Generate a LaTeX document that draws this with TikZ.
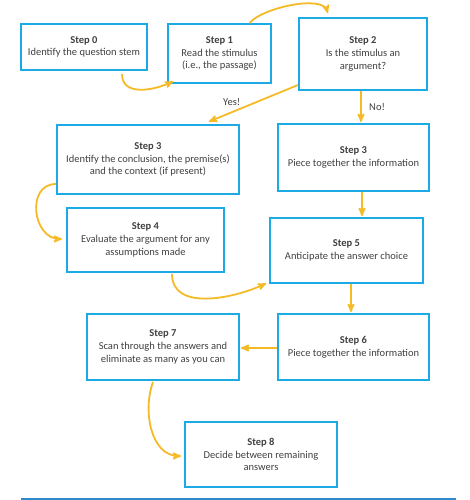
\documentclass[tikz,border=0pt]{standalone}
\usepackage{fontspec}
\setmainfont{Carlito}
\usetikzlibrary{arrows}
\definecolor{boxblue}{RGB}{27,170,230}
\definecolor{arrowgold}{RGB}{245,187,38}
\definecolor{rulblue}{RGB}{46,138,203}
\definecolor{txtgray}{RGB}{64,64,64}
\begin{document}
\begin{tikzpicture}[x=1pt,y=-1pt,->,>=stealth',shorten >=1pt,
    step node/.style={rectangle,draw=boxblue,line width=2pt,align=center,text=txtgray,
      font=\fontsize{10.5}{12.7}\selectfont,inner sep=2pt},
    flow/.style={draw=arrowgold,line width=1.8pt},
    answer/.style={text=txtgray,font=\fontsize{10.5}{12.7}\selectfont}]
\useasboundingbox (0,0) rectangle (469,500);

\node[step node,minimum width=126pt,minimum height=46pt] (0) at (84,47)
  {\textbf{Step 0}\\Identify the question stem};
\node[step node,minimum width=103pt,minimum height=59pt] (1) at (219.5,53.5)
  {\textbf{Step 1}\\Read the stimulus\\(i.e., the passage)};
\node[step node,minimum width=128pt,minimum height=72pt] (2) at (363,54)
  {\textbf{Step 2}\\Is the stimulus an\\argument?};
\node[step node,minimum width=182pt,minimum height=69pt] (3y) at (148,159.5)
  {\textbf{Step 3}\\Identify the conclusion, the premise(s)\\and the context (if present)};
\node[step node,minimum width=151pt,minimum height=67pt] (3n) at (353.5,157.5)
  {\textbf{Step 3}\\Piece together the information};
\node[step node,minimum width=157pt,minimum height=64pt] (4) at (145.5,240)
  {\textbf{Step 4}\\Evaluate the argument for any\\assumptions made};
\node[step node,minimum width=153pt,minimum height=65pt] (5) at (346.5,250.5)
  {\textbf{Step 5}\\Anticipate the answer choice};
\node[step node,minimum width=151pt,minimum height=66pt] (6) at (353.5,347)
  {\textbf{Step 6}\\Piece together the information};
\node[step node,minimum width=152pt,minimum height=66pt] (7) at (163,347)
  {\textbf{Step 7}\\Scan through the answers and\\eliminate as many as you can};
\node[step node,minimum width=152pt,minimum height=65pt] (8) at (261,454.5)
  {\textbf{Step 8}\\Decide between remaining\\answers};

% connectors
\draw[flow] ([xshift=38pt,yshift=-3pt]0.south) to[out=-90,in=205,looseness=1.1] ([xshift=7pt,yshift=3pt]1.south west);
\draw[flow] ([xshift=30pt]1.north) to[out=50,in=105,looseness=0.65] ([xshift=30pt,yshift=3pt]2.north west);
\draw[flow] ([yshift=6pt]2.south west) -- node[answer,pos=0.62,anchor=south east,inner sep=1pt,shorten >=0pt] {Yes!} ([xshift=60pt,yshift=2pt]3y.north);
\draw[flow] ([xshift=-2pt]2.south) -- node[answer,right,xshift=4pt] {No!} ([xshift=-2pt]2.south |- 3n.north);
\draw[flow] ([yshift=11pt]3y.south west) to[out=180,in=180,looseness=1.4] ([xshift=-3pt,yshift=1pt]4.west);
\draw[flow] ([xshift=8.5pt]3n.south) -- ([xshift=8.5pt]3n.south |- 5.north);
\draw[flow] ([xshift=26.5pt,yshift=-1pt]4.south) to[out=-90,in=205,looseness=1] ([xshift=-2pt,yshift=1pt]5.south west);
\draw[flow] ([xshift=4.5pt]5.south) -- ([xshift=4.5pt]5.south |- 6.north);
\draw[flow] ([yshift=-1pt]6.west) -- ([yshift=-1pt]7.east);
\draw[flow] ([xshift=-10pt,yshift=-1pt]7.south) to[out=250,in=180,looseness=1] ([xshift=-2pt,yshift=-1.5pt]8.west);

% rule at bottom
\fill[rulblue] (21,497.5) rectangle (456,500);
\end{tikzpicture}
\end{document}
